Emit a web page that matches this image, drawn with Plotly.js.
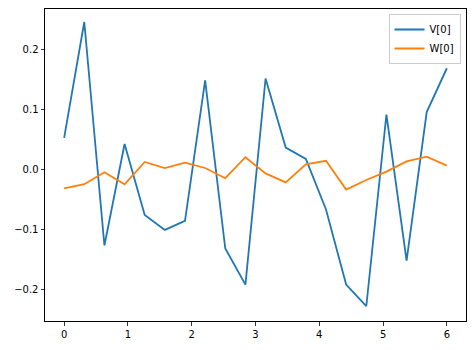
<!DOCTYPE html>
<html>
<head>
<meta charset="utf-8">
<script src="https://cdn.plot.ly/plotly-3.0.1.min.js"></script>
<style>html,body{margin:0;padding:0;background:#fff;}#chart{width:474px;height:350px;}</style>
</head>
<body>
<div id="chart"></div>
<script>
const xs = [0, 0.3158, 0.6316, 0.9474, 1.2632, 1.5789, 1.8947, 2.2105, 2.5263, 2.8421,
            3.1579, 3.4737, 3.7895, 4.1053, 4.4211, 4.7368, 5.0526, 5.3684, 5.6842, 6.0];
const vSeries = [0.053, 0.246, -0.126, 0.043, -0.075, -0.100, -0.085, 0.149, -0.131, -0.191,
                 0.152, 0.037, 0.018, -0.066, -0.191, -0.227, 0.092, -0.151, 0.096, 0.169];
const wSeries = [-0.031, -0.024, -0.004, -0.024, 0.013, 0.003, 0.012, 0.003, -0.014, 0.021,
                 -0.006, -0.021, 0.009, 0.015, -0.033, -0.017, -0.003, 0.014, 0.022, 0.007];
const seriesNames = ['V[0]', 'W[0]'];
const xTicks = [0, 1, 2, 3, 4, 5, 6];
const yTicks = [-0.2, -0.1, 0, 0.1, 0.2];
const yTickText = ['\u22120.2', '\u22120.1', '0.0', '0.1', '0.2'];

const traces = [
  {x: xs, y: vSeries, name: seriesNames[0], mode: 'lines', line: {color: '#1f77b4', width: 1.8}},
  {x: xs, y: wSeries, name: seriesNames[1], mode: 'lines', line: {color: '#ff7f0e', width: 1.8}}
];
const axisCommon = {
  showline: true, mirror: true, linecolor: '#000', linewidth: 1,
  showgrid: false, zeroline: false,
  ticks: 'outside', ticklen: 3.5, tickwidth: 0.8, tickcolor: '#000',
  tickfont: {family: 'DejaVu Sans', size: 10, color: '#000'}
};
const layout = {
  width: 474, height: 350,
  margin: {l: 45, r: 8, t: 9, b: 29},
  paper_bgcolor: '#fff', plot_bgcolor: '#fff',
  font: {family: 'DejaVu Sans', size: 10, color: '#000'},
  xaxis: Object.assign({}, axisCommon, {range: [-0.3, 6.3], tickvals: xTicks, ticktext: xTicks.map(String)}),
  yaxis: Object.assign({}, axisCommon, {range: [-0.2516, 0.2676], tickvals: yTicks, ticktext: yTickText}),
  showlegend: true,
  legend: {
    x: 0.987, y: 0.984, xanchor: 'right', yanchor: 'top',
    bgcolor: 'rgba(255,255,255,0.8)', bordercolor: '#cccccc', borderwidth: 1,
    font: {family: 'DejaVu Sans', size: 10, color: '#000'},
    itemwidth: 30, tracegroupgap: 0
  }
};
Plotly.newPlot('chart', traces, layout, {displayModeBar: false, staticPlot: true});
</script>
</body>
</html>
